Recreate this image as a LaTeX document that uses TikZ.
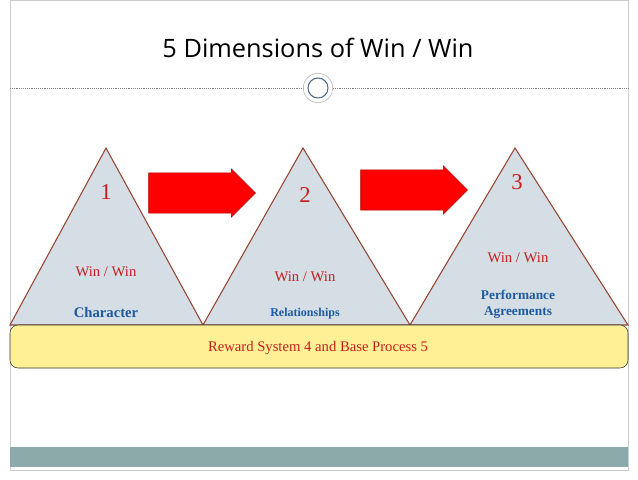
\documentclass[tikz,border=0pt]{standalone}
\usepackage{fontspec}
\setmainfont{Liberation Serif}
\newfontfamily\titlefont{Open Sans}
\usetikzlibrary{positioning,shapes.arrows}
\definecolor{slidered}{RGB}{200,30,30}
\definecolor{slideblue}{RGB}{30,90,160}
\definecolor{tribg}{RGB}{212,222,228}
\definecolor{tribrd}{RGB}{150,70,50}
\definecolor{barteal}{RGB}{140,170,170}
\definecolor{baryel}{RGB}{255,240,150}
\begin{document}
\begin{tikzpicture}[x=0.75pt,y=-0.75pt]
            \tikzstyle{peak}=[fill=tribg, draw=tribrd, thick]
            \tikzstyle{num}=[text=slidered, font=\fontsize{17}{17}\selectfont]
            \tikzstyle{win}=[text=slidered, font=\fontsize{11}{11}\selectfont]
            \tikzstyle{dim}=[text=slideblue, font=\bfseries\fontsize{11}{13}\selectfont, align=center]
            \tikzstyle{push}=[single arrow, fill=red, draw=red!70!black, minimum height=80pt, minimum width=36pt, single arrow head extend=1pt, inner sep=5pt]
            \useasboundingbox (0,0) rectangle (638,479);
            \draw[gray!40] (10,0) rectangle (628,470);
            \fill[barteal] (10,447) rectangle (628,467);
            \node[font=\titlefont\fontsize{19}{19}\selectfont] (T) at (318,48){5 Dimensions of Win / Win};
            \draw[gray, densely dotted] (10,88) -- (628,88);
            \node[circle, fill=white, draw=gray!60, minimum size=22pt] (C) at (318,88){};
            \node[circle, draw=slideblue!50!gray, thick, minimum size=15pt] at (C){};
            \draw[peak] (106,148) -- (203,325) -- (10,325) -- cycle;
            \draw[peak] (303,148) -- (410,325) -- (203,325) -- cycle;
            \draw[peak] (515,148) -- (628,325) -- (410,325) -- cycle;
            \node[push] (A1) at (192,193){};
            \node[push] (A2) at (404,190){};
            \node[num] (N1) at (106,192){1};
            \node[num] (N2) at (305,195){2};
            \node[num] (N3) at (517,182){3};
            \node[win] (W1) at (106,272){Win / Win};
            \node[win] (W2) at (305,277){Win / Win};
            \node[win] (W3) at (518,258){Win / Win};
            \node[dim] (D1) at (106,312){Character};
            \node[dim, font=\bfseries\fontsize{9}{9}\selectfont] (D2) at (305,314){Relationships};
            \node[dim, font=\bfseries\fontsize{10}{12}\selectfont] (D3) at (518,304){Performance\\Agreements};
            \draw[fill=baryel, draw=black!80, rounded corners=6pt] (10,325) rectangle (628,368);
            \node[win] (R) at (318,348){Reward System 4 and Base Process 5};
        \end{tikzpicture}
\end{document}
